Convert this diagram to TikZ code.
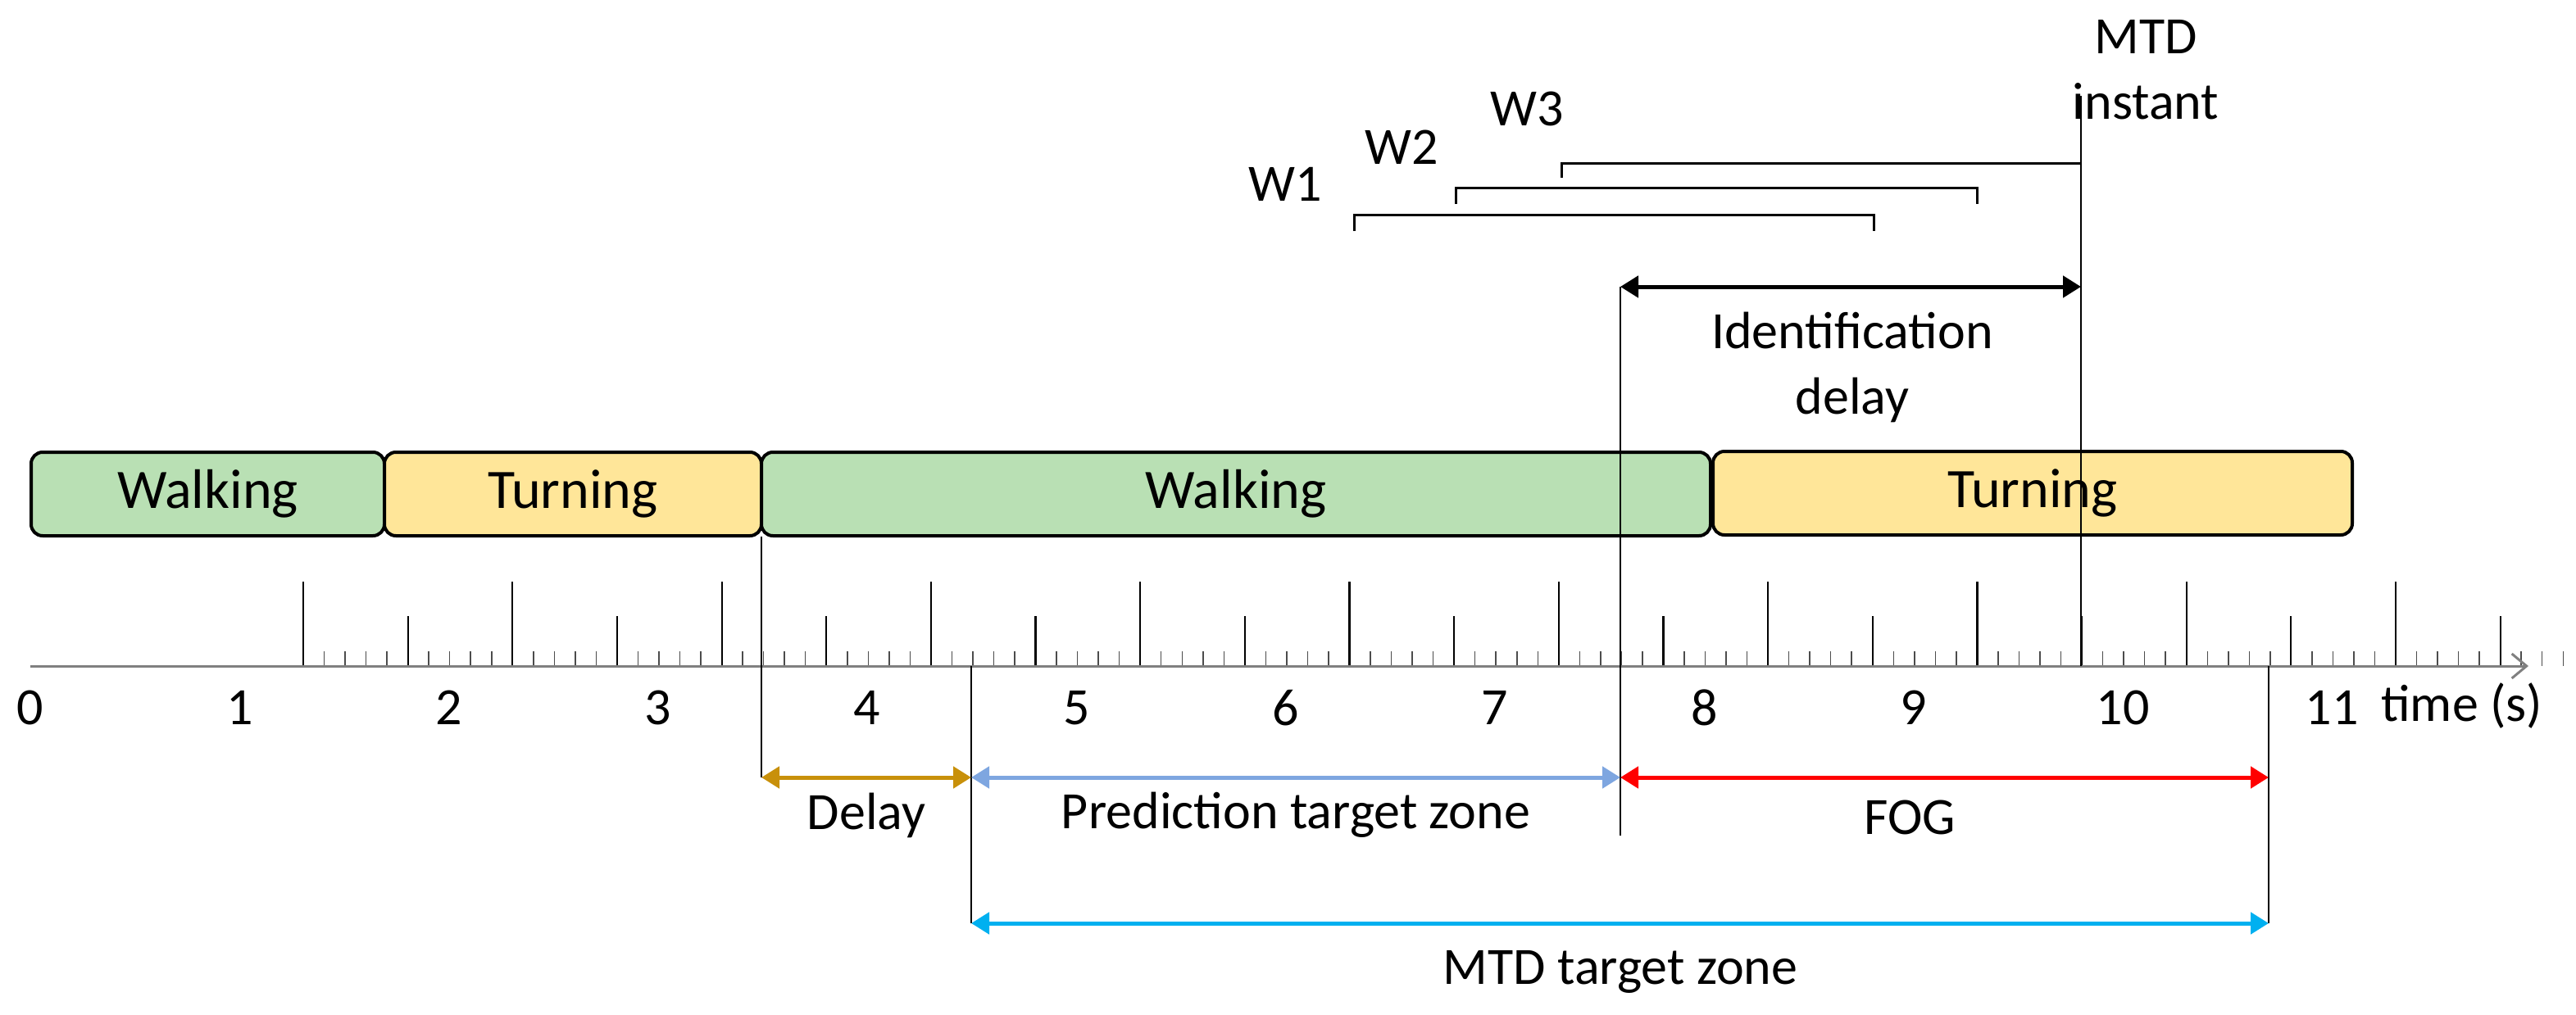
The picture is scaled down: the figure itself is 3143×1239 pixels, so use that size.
\documentclass[tikz,border=0pt]{standalone}
\usepackage{fontspec}
\setmainfont{Carlito}
\usetikzlibrary{arrows.meta}
\definecolor{wgreen}{HTML}{B9E0B4}
\definecolor{tyellow}{HTML}{FFE699}
\definecolor{dorange}{HTML}{C8900A}
\definecolor{lblue}{HTML}{7EA6E0}
\definecolor{cyanb}{HTML}{00B0F0}
\begin{document}
\begin{tikzpicture}[x=1pt,y=-1pt,
  txt/.style={font=\fontsize{64}{72}\selectfont, inner sep=0pt},
  phase/.style={draw=black, line width=4pt, rounded corners=14pt, font=\fontsize{68}{72}\selectfont, inner sep=0pt},
  thin/.style={line width=2.2pt},
  dim/.style={line width=5pt, {Triangle[length=22pt,width=26pt]}-{Triangle[length=22pt,width=26pt]}},
  brk/.style={line width=3pt}]
\useasboundingbox (0,0) rectangle (3143,1239);
% phases
\node[phase, fill=wgreen, minimum width=431pt, minimum height=102pt] (p1) at (253.5,603) {Walking};
\node[phase, fill=tyellow, minimum width=460pt, minimum height=102pt] (p2) at (699,603) {Turning};
\node[phase, fill=wgreen, minimum width=1158pt, minimum height=102pt] (p3) at (1508,603) {Walking};
\node[phase, fill=tyellow, minimum width=780pt, minimum height=102pt] (p4) at (2480,602) {Turning};
% axis ticks
\foreach \i in {0,...,115}{
  \pgfmathsetmacro{\xx}{37+\i*2.553}
  \pgfmathtruncatemacro{\m}{mod(\i,10)}
  \pgfmathtruncatemacro{\h}{mod(\i,5)}
  \ifnum\m=0 \draw[thin] (\xx*10,710) -- (\xx*10,813);
  \else\ifnum\h=0 \draw[thin] (\xx*10,752) -- (\xx*10,813);
  \else \draw[line width=1.5pt, black!70] (\xx*10,795) -- (\xx*10,813); \fi\fi
}
\coordinate (ax0) at (37,813);
\coordinate (ax1) at (3085,813);
\draw[line width=3pt, black!50, -{Straight Barb[length=18pt,width=30pt]}] (ax0) -- (ax1);
\foreach \i in {0,...,11}{
  \node[txt] (t\i) at (37+\i*255.3,864) {\i};
}
\node[txt, anchor=west] (tl) at (2905,862) {time (s)};
% key instants
\coordinate (dl0) at (929,655);
\coordinate (dl1) at (929,949);
\coordinate (pz0) at (1185,813);
\coordinate (pz1) at (1185,1127);
\coordinate (pz2) at (1185,949);
\coordinate (id0) at (1977,350);
\coordinate (id1) at (1977,1020);
\coordinate (id2) at (1977,949);
\coordinate (mt0) at (2539,117);
\coordinate (mt1) at (2539,813);
\coordinate (mt2) at (2539,350);
\coordinate (fg0) at (2768,813);
\coordinate (fg1) at (2768,1127);
\coordinate (fg2) at (2768,949);
\draw[thin] (dl0) -- (dl1);
\draw[thin] (pz0) -- (pz1);
\draw[thin] (id0) -- (id1);
\draw[thin] (mt0) -- (mt1);
\draw[thin] (fg0) -- (fg1);
% dimension arrows
\draw[dim, draw=dorange, fill=dorange] (dl1) -- (pz2);
\draw[dim, draw=lblue, fill=lblue] (pz2) -- (id2);
\draw[dim, draw=red, fill=red] (id2) -- (fg2);
\draw[dim, draw=cyanb, fill=cyanb] (1185,1127) -- (2768,1127);
\draw[dim, draw=black, fill=black] (id0) -- (mt2);
\node[txt] (dlt) at (1057,995) {Delay};
\node[txt] (pzt) at (1581,995) {Prediction target zone};
\node[txt] (fgt) at (2330,998) {FOG};
\node[txt] (mtz) at (1977,1186) {MTD target zone};
\node[txt, align=center] (idt) at (2260,448) {Identification\\[8pt]delay};
\node[txt, align=center] (mtd) at (2618,85) {MTD\\[8pt]instant};
% windows
\draw[brk] (1905,217) -- (1905,199) -- (2539,199);
\draw[brk] (1776,249) -- (1776,229) -- (2412,229) -- (2412,249);
\draw[brk] (1652,282) -- (1652,262) -- (2286,262) -- (2286,282);
\node[txt] (w1) at (1568,225) {W1};
\node[txt] (w2) at (1710,180) {W2};
\node[txt] (w3) at (1863,133) {W3};
\end{tikzpicture}
\end{document}
